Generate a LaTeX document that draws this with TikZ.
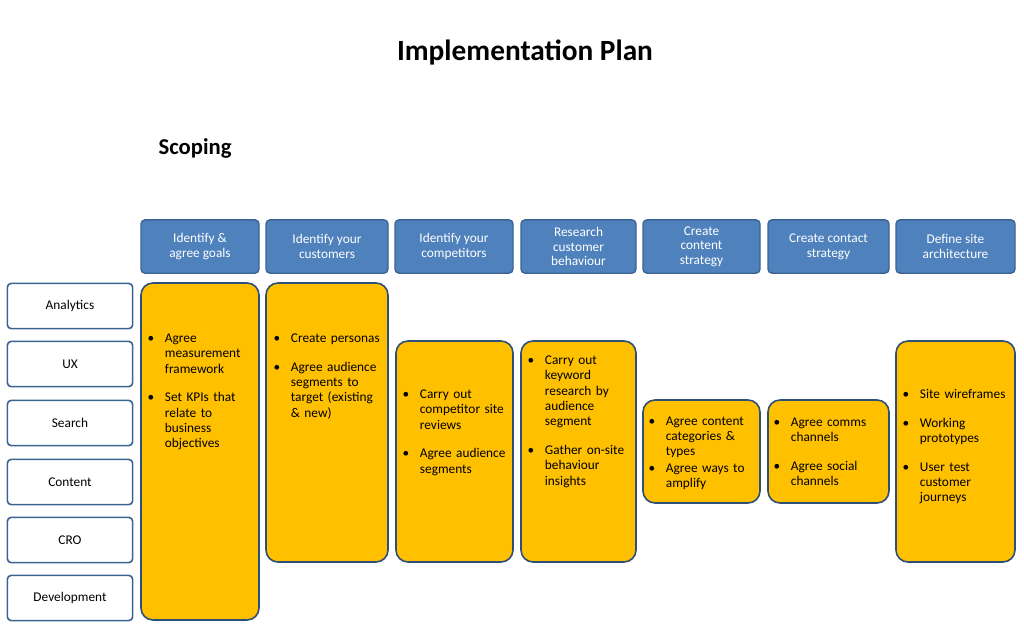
\documentclass[tikz,border=0pt]{standalone}
\usepackage{fontspec}
\setmainfont{Carlito}
\usepackage{enumitem}
\definecolor{hdrblue}{HTML}{4F81BD}
\definecolor{hdredge}{HTML}{3B6493}
\definecolor{taskorange}{HTML}{FFC000}
\newcommand{\tasklist}[1]{\begin{itemize}[leftmargin=14pt,labelsep=8pt,itemsep=10pt,topsep=0pt,parsep=0pt]#1\end{itemize}}
\begin{document}
\begin{tikzpicture}[x=0.75pt,y=-0.75pt,
  hdr/.style={draw=hdredge,fill=hdrblue,rounded corners=3pt,line width=1pt,text=white,align=center,font=\fontsize{10}{11}\selectfont},
  lane/.style={draw=hdredge,fill=white,rounded corners=3pt,line width=1.2pt,font=\fontsize{10}{12}\selectfont},
  task/.style={draw=hdredge!80!black,fill=taskorange,rounded corners=9pt,line width=1.2pt},
  items/.style={anchor=north west,inner sep=0pt,font=\fontsize{10}{11.5}\selectfont,align=left}]
  \useasboundingbox (0,0) rectangle (1024,637);
  % Titles
  \node (title) at (525,52) {\fontsize{22}{26}\selectfont\bfseries Implementation Plan};
  \node (scope) at (195,148) {\fontsize{17}{20}\selectfont\bfseries Scoping};
  % Header row
  \foreach \xa/\xb/\txt [count=\i] in {141/259/{Identify \&\\agree goals},266/388/{Identify your\\customers},395/513/{Identify your\\competitors},521/636/{Research\\customer\\behaviour},643/760/{Create\\content\\strategy},768/889/{Create contact\\strategy},896/1015/{Define site\\architecture}}
    \node[hdr,minimum width=(\xb-\xa)*0.75pt,minimum height=40pt,inner sep=1pt] (h\i) at ({(\xa+\xb)/2},246.5) {\txt};
  % Work streams
  \foreach \ya/\txt [count=\i] in {283/Analytics,341/UX,400/Search,459/Content,517/CRO,575/Development}
    \node[lane,minimum width=94pt,minimum height=34pt] (l\i) at (70,\ya+23) {\txt};
  % Task boxes
  \draw[task] (141,283) rectangle (259,620);
  \draw[task] (266,283) rectangle (388,562);
  \draw[task] (396,341) rectangle (513,562);
  \draw[task] (521,341) rectangle (636,562);
  \draw[task] (643,400) rectangle (760,503);
  \draw[task] (768,400) rectangle (889,503);
  \draw[task] (896,341) rectangle (1015,562);
  \node[items,text width=82pt] (t1) at (146,327) {\tasklist{\item Agree measurement framework \item Set KPIs that relate to business objectives}};
  \node[items,text width=82pt] (t2) at (272,327) {\tasklist{\item Create personas \item Agree audience segments to target (existing \& new)}};
  \node[items,text width=82pt] (t3) at (401,383) {\tasklist{\item Carry out competitor site reviews \item Agree audience segments}};
  \node[items,text width=80pt] (t4) at (526,349) {\tasklist{\item Carry out keyword research by audience segment \item Gather on-site behaviour insights}};
  \node[items,text width=84pt,font=\fontsize{10}{11}\selectfont] (t5) at (647,411) {\begin{itemize}[leftmargin=14pt,labelsep=8pt,itemsep=2pt,topsep=0pt,parsep=0pt]\item Agree content categories \& types \item Agree ways to amplify\end{itemize}};
  \node[items,text width=86pt] (t6) at (772,411) {\tasklist{\item Agree comms channels \item Agree social channels}};
  \node[items,text width=82pt] (t7) at (901,383) {\tasklist{\item Site wireframes \item Working prototypes \item User test customer journeys}};
\end{tikzpicture}
\end{document}
